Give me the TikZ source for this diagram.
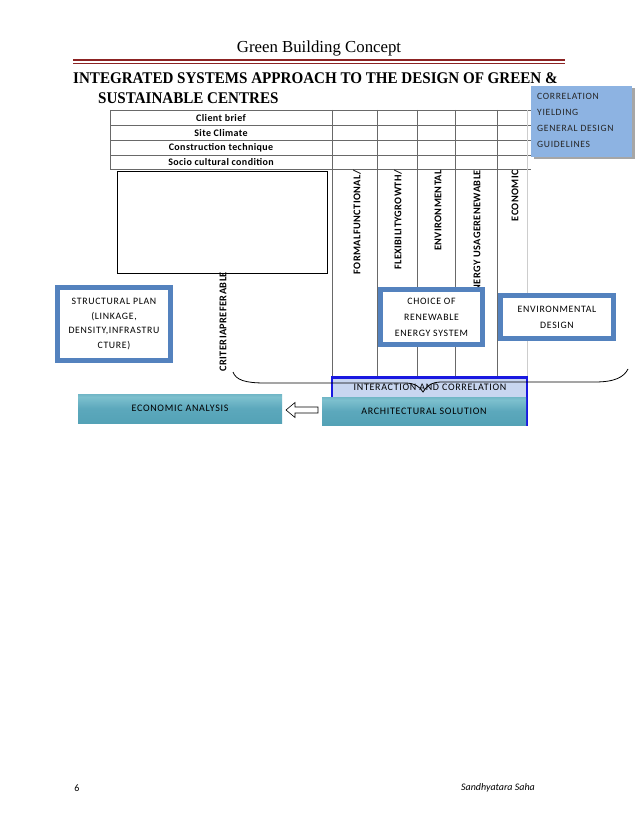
\documentclass[tikz,border=0pt]{standalone}
\usepackage{fontspec}
\setmainfont{Liberation Serif}
\newfontfamily\calf{Carlito}
\newfontfamily\calw{Carlito}[LetterSpace=7]
\newfontfamily\calr{Carlito}[LetterSpace=4]
\definecolor{hdrred}{RGB}{140,35,35}
\definecolor{gridgray}{RGB}{105,105,105}
\definecolor{lightgrid}{RGB}{205,205,205}
\definecolor{steel}{RGB}{84,130,190}
\definecolor{corrfill}{RGB}{141,179,226}
\definecolor{interfill}{RGB}{200,214,240}
\definecolor{intblue}{RGB}{25,25,225}
\definecolor{tA}{RGB}{45,120,140}
\definecolor{tB}{RGB}{78,158,178}
\definecolor{tC}{RGB}{92,168,188}
\definecolor{tD}{RGB}{125,192,206}
\definecolor{tE}{RGB}{85,160,180}
\definecolor{tF}{RGB}{110,180,197}
\pgfdeclareverticalshading{tealbar}{100bp}{color(0bp)=(tA); color(8bp)=(tB); color(50bp)=(tC); color(70bp)=(tD); color(86bp)=(tE); color(100bp)=(tF)}
\tikzset{
  rowlbl/.style={font=\calr\bfseries\fontsize{10}{11}\selectfont, inner sep=0},
  collbl/.style={font=\calr\bfseries\fontsize{10.3}{11}\selectfont, rotate=90, anchor=east, inner sep=0},
  frame/.style={draw=steel, line width=5pt, fill=white, align=center, inner sep=0,
    font=\calw\fontsize{9.8}{14.5}\selectfont},
  tealbox/.style={shading=tealbar, draw=none, inner sep=0, font=\calw\fontsize{10}{11}\selectfont},
  gridline/.style={draw=gridgray, line width=0.7pt},
  titlefont/.style={font=\bfseries\fontsize{16.3}{19}\selectfont},
  blockarrow/.style={draw=black, fill=white, line width=0.6pt, line join=miter},
}
\begin{document}
\begin{tikzpicture}[x=1pt,y=-1pt]
\useasboundingbox (0,0) rectangle (638,826);
\fill[white] (0,0) rectangle (638,826);
% header
\node[font=\fontsize{16.8}{19}\selectfont, inner sep=0] (hdr) at (319,48) {Green Building Concept};
\draw[hdrred, line width=2.6pt] (73,60) -- (565,60);
\draw[hdrred, line width=0.6pt] (73,63) -- (565,63);
\node[anchor=base west, inner sep=0, titlefont] (t1) at (73,84) {\scalebox{0.925}[1]{INTEGRATED SYSTEMS APPROACH TO THE DESIGN OF GREEN \&}};
\node[anchor=base west, inner sep=0, titlefont] (t2) at (98,103.5) {\scalebox{0.925}[1]{SUSTAINABLE CENTRES}};
% grid
\foreach \yy in {110,125.5,140.5,155.5,169.5} \draw[gridline] (110,\yy) -- (531,\yy);
\draw[gridline] (110,110) -- (110,169.5);
\foreach \xx in {332,377,417,455,497} \draw[gridline] (\xx,110) -- (\xx,378);
\draw[lightgrid, line width=0.7pt] (527,110) -- (527,378);
\node[rowlbl] (r1) at (221,118.5) {Client brief};
\node[rowlbl] (r2) at (221,133) {Site Climate};
\node[rowlbl] (r3) at (221,148) {Construction technique};
\node[rowlbl] (r4) at (221,162.5) {Socio cultural condition};
\node[draw=black, line width=0.7pt, fill=white, minimum width=210, minimum height=102, inner sep=0] (big) at (222,222) {};
\node[collbl] (c1) at (357,170) {FORMALFUNCTIONAL/};
\node[collbl] (c2) at (398,170) {FLEXIBILITYGROWTH/};
\node[collbl] (c3) at (438,170) {ENVIRONMENTAL};
\begin{scope}
\clip (455,165) rectangle (497,286);
\node[collbl] (c4) at (477,170) {ENERGY USAGERENEWABLE};
\end{scope}
\node[collbl] (c5) at (515,170) {ECONOMIC};
\node[collbl] (crit) at (223,272) {CRITERIAPREFERABLE};
% boxes
\node[frame, minimum width=113, minimum height=73] (sp) at (114,324) {STRUCTURAL PLAN\\(LINKAGE,\\DENSITY,INFRASTRU\\CTURE)};
\node[frame, minimum width=102, minimum height=55, font=\calw\fontsize{9.8}{16}\selectfont] (ch) at (431.5,317) {CHOICE OF\\RENEWABLE\\ENERGY SYSTEM};
\node[frame, minimum width=113, minimum height=43, font=\calw\fontsize{9.8}{16}\selectfont] (ed) at (557,317) {ENVIRONMENTAL\\DESIGN};
% correlation box
\fill[gray!70] (533.5,88.5) rectangle (634.5,159.5);
\node[fill=corrfill, minimum width=101, minimum height=71, inner sep=0] (corr) at (581.5,122) {};
\node[anchor=north west, align=left, inner sep=0, font=\calw\fontsize{9.6}{16}\selectfont, text=black!85] (corrt) at (537,93) {CORRELATION\\YIELDING\\GENERAL DESIGN\\GUIDELINES};
% interaction box
\node[draw=intblue, line width=2.8pt, fill=interfill, minimum width=195, minimum height=47, inner sep=0] (inter) at (429.5,401) {};
\node[font=\calw\fontsize{10}{11}\selectfont, inner sep=0] (intert) at (430,387.5) {INTERACTION AND CORRELATION};
% brace
\coordinate (bl) at (233,372);
\coordinate (br) at (628,369);
\draw[black, line width=0.8pt] (bl) .. controls (236,380) and (245,383) .. (265,383) -- (405,383)
  .. controls (415,383) and (420,387) .. (423,392) .. controls (426,387) and (431,382) .. (441,382)
  -- (595,382) .. controls (615,382) and (624,377) .. (br);
% teal boxes
\node[tealbox, minimum width=204, minimum height=28] (arch) at (424,411) {ARCHITECTURAL SOLUTION};
\node[tealbox, minimum width=204, minimum height=29] (econ) at (180,408.5) {ECONOMIC ANALYSIS};
% block arrow from arch to econ
\coordinate (atip) at (286,410);
\coordinate (atail) at (318,410);
\draw[blockarrow] (atip) -- ++(9,-7.5) -- ++(0,4.5) -- (318,407) -- (318,413) -- (295,413) -- (295,417.5) -- cycle;
% footer
\node[font=\calf\fontsize{10}{12}\selectfont, inner sep=0] (pg) at (77,788) {6};
\node[font=\calf\itshape\fontsize{10}{12}\selectfont, inner sep=0] (auth) at (498,788) {Sandhyatara Saha};
\end{tikzpicture}
\end{document}
